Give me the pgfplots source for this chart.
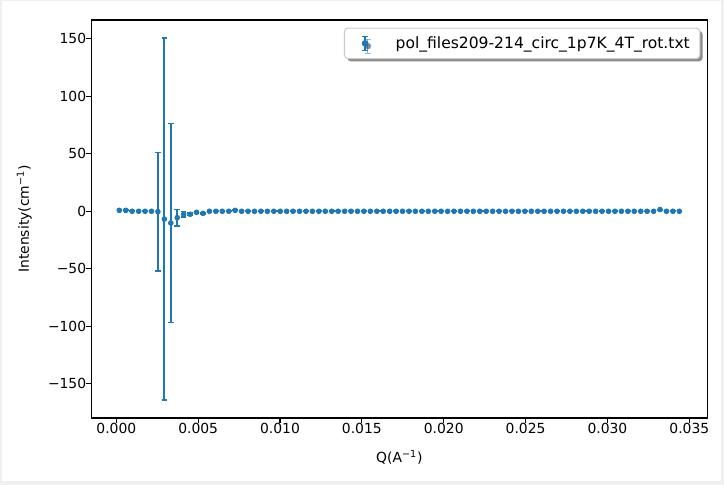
\documentclass[border=0pt]{standalone}
\usepackage{fontspec}
\setmainfont{DejaVu Sans}
\usepackage{pgfplots}
\pgfplotsset{compat=1.18}
\usetikzlibrary{shadows}
\definecolor{mpl}{HTML}{1F77B4}
\pgfplotstableread{
q i e
0.000183 0.8 0.3
0.000576 0.8 0.3
0.000969 0 0.3
0.001363 0 0.3
0.001756 0 0.3
0.002149 0 0.3
0.002542 -0.3 51.6
0.002935 -6.8 157.2
0.003329 -10.2 86.5
0.003722 -5.5 7.3
0.004115 -2.6 2.5
0.004508 -2.6 1.0
0.004901 -0.9 0.5
0.005295 -1.8 0.5
0.005688 0 0.3
0.006081 0 0.3
0.006474 0 0.3
0.006867 0 0.3
0.007261 0.8 0.3
0.007654 0 0.3
0.008047 0 0.3
0.008440 0 0.3
0.008833 0 0.3
0.009227 0 0.3
0.009620 0 0.3
0.010013 0 0.3
0.010406 0 0.3
0.010799 0 0.3
0.011193 0 0.3
0.011586 0 0.3
0.011979 0 0.3
0.012372 0 0.3
0.012765 0 0.3
0.013159 0 0.3
0.013552 0 0.3
0.013945 0 0.3
0.014338 0 0.3
0.014731 0 0.3
0.015125 0 0.3
0.015518 0 0.3
0.015911 0 0.3
0.016304 0 0.3
0.016697 0 0.3
0.017091 0 0.3
0.017484 0 0.3
0.017877 0 0.3
0.018270 0 0.3
0.018663 0 0.3
0.019057 0 0.3
0.019450 0 0.3
0.019843 0 0.3
0.020236 0 0.3
0.020629 0 0.3
0.021023 0 0.3
0.021416 0 0.3
0.021809 0 0.3
0.022202 0 0.3
0.022595 0 0.3
0.022989 0 0.3
0.023382 0 0.3
0.023775 0 0.3
0.024168 0 0.3
0.024561 0 0.3
0.024955 0 0.3
0.025348 0 0.3
0.025741 0 0.3
0.026134 0 0.3
0.026527 0 0.3
0.026921 0 0.3
0.027314 0 0.3
0.027707 0 0.3
0.028100 0 0.3
0.028493 0 0.3
0.028887 0 0.3
0.029280 0 0.3
0.029673 0 0.3
0.030066 0 0.3
0.030459 0 0.3
0.030853 0 0.3
0.031246 0 0.3
0.031639 0 0.3
0.032032 0 0.3
0.032425 0 0.3
0.032819 0 0.3
0.033212 1.5 0.3
0.033605 0 0.3
0.033998 0 0.3
0.034391 0 0.3
}\datatab
\begin{document}
\begin{tikzpicture}
% background / page border (1px = 0.72bp)
\fill[black!6] (-65.74bp,-48.24bp) rectangle (455.54bp,300.96bp);
\fill[white] (-64.3bp,-45.7bp) rectangle (453.7bp,299.9bp);
\begin{axis}[
  at={(0,0)}, anchor=south west,
  scale only axis,
  width=443.52bp, height=286.56bp,
  xmin=-0.001527, xmax=0.0361,
  ymin=-179.6, ymax=166.2,
  scaled x ticks=false, scaled y ticks=false,
  axis line style={line width=0.8bp},
  every tick/.style={black, line width=0.8bp},
  tick align=outside,
  major tick length=3.5bp,
  xtick={0,0.005,0.01,0.015,0.02,0.025,0.03,0.035},
  xticklabels={0.000,0.005,0.010,0.015,0.020,0.025,0.030,0.035},
  ytick={-150,-100,-50,0,50,100,150},
  yticklabels={−150,−100,−50,0,50,100,150},
  xtick pos=bottom, ytick pos=left,
  font=\fontsize{10bp}{12bp}\selectfont,
  xticklabel style={font=\fontsize{10bp}{12bp}\selectfont, inner sep=0pt},
  yticklabel style={font=\fontsize{10bp}{12bp}\selectfont, inner sep=0pt},
  xlabel={Q(A\textsuperscript{−1})},
  ylabel={Intensity(cm\textsuperscript{−1})},
  every axis x label/.style={at={(rel axis cs:0.5,0)}, anchor=base, inner sep=0pt, yshift=-31.7bp, font=\fontsize{10bp}{12bp}\selectfont},
  every axis y label/.style={at={(rel axis cs:0,0.5)}, rotate=90, anchor=south, inner sep=0pt, yshift=42.7bp, font=\fontsize{10bp}{12bp}\selectfont},
  legend style={at={(rel axis cs:1,1)}, anchor=north east, xshift=-5bp, yshift=-5.5bp,
    draw=black!20, rounded corners=2.5bp, fill=white, line width=0.8bp,
    drop shadow={shadow xshift=2bp, shadow yshift=-2bp, fill=black, opacity=0.45},
    font=\fontsize{11.2bp}{13bp}\selectfont, inner xsep=7.2bp, inner ysep=5.2bp,
    nodes={inner sep=0pt}},
  legend cell align=left,
  legend image code/.code={
    \draw[mpl, line width=1.5bp] (7.2bp,-5bp) -- (7.2bp,5bp);
    \draw[mpl, line width=1bp] (5.2bp,-5bp) -- (9.2bp,-5bp) (5.2bp,5bp) -- (9.2bp,5bp);
    \fill[mpl] (7.2bp,0bp) circle (2bp);
    \path (0bp,0bp) (28.8bp,0bp);
  },
]
\addplot[only marks, mark=*, color=mpl, mark size=1.6bp, mark options={line width=0.8bp},
  error bars/.cd, y dir=both, y explicit,
  error bar style={line width=1.5bp, color=mpl},
  error mark options={line width=1bp, mark size=2bp, color=mpl, rotate=90}]
  table[x=q, y=i, y error=e]{\datatab};
\addlegendentry{pol\_files209-214\_circ\_1p7K\_4T\_rot.txt}
\end{axis}
\end{tikzpicture}
\end{document}
